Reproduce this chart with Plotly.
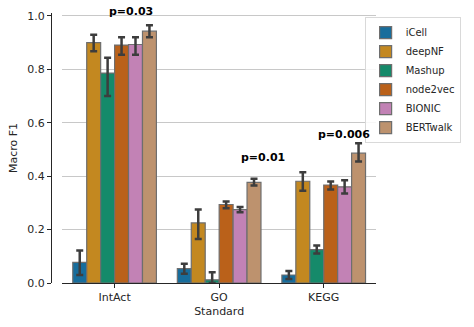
import plotly.graph_objects as go

standards = ["IntAct", "GO", "KEGG"]
methods = ["iCell", "deepNF", "Mashup", "node2vec", "BIONIC", "BERTwalk"]
colors = ["#176d9c", "#c38820", "#158a6a", "#ba611a", "#c282b5", "#bd926e"]

values = {
    "iCell":    [0.077, 0.054, 0.030],
    "deepNF":   [0.900, 0.225, 0.381],
    "Mashup":   [0.786, 0.012, 0.125],
    "node2vec": [0.891, 0.294, 0.367],
    "BIONIC":   [0.893, 0.275, 0.360],
    "BERTwalk": [0.943, 0.377, 0.486],
}
err_lo = {
    "iCell":    [0.030, 0.035, 0.015],
    "deepNF":   [0.868, 0.165, 0.345],
    "Mashup":   [0.700, 0.000, 0.110],
    "node2vec": [0.855, 0.280, 0.350],
    "BIONIC":   [0.855, 0.265, 0.335],
    "BERTwalk": [0.920, 0.365, 0.455],
}
err_hi = {
    "iCell":    [0.122, 0.072, 0.045],
    "deepNF":   [0.930, 0.275, 0.415],
    "Mashup":   [0.843, 0.040, 0.140],
    "node2vec": [0.920, 0.305, 0.380],
    "BIONIC":   [0.920, 0.285, 0.385],
    "BERTwalk": [0.965, 0.390, 0.523],
}
p_labels = ["p=0.03", "p=0.01", "p=0.006"]
p_x = [0.16, 1.42, 2.19]
p_y = [1.015, 0.47, 0.556]
y_max = 1.011

font = "DejaVu Sans"
fig = go.Figure()
for m, c in zip(methods, colors):
    v = values[m]
    fig.add_trace(go.Bar(
        x=standards, y=v, name=m,
        marker=dict(color=c, line=dict(color="#6e6e6e", width=1.2)),
        error_y=dict(
            type="data", symmetric=False,
            array=[h - y for h, y in zip(err_hi[m], v)],
            arrayminus=[y - l for l, y in zip(err_lo[m], v)],
            color="#3d3d3d", thickness=2.5, width=3.5,
        ),
    ))

for t, x, y in zip(p_labels, p_x, p_y):
    fig.add_annotation(x=x, y=y / y_max, xref="x", yref="paper", text="<b>" + t + "</b>",
                       showarrow=False, xanchor="center", yanchor="middle",
                       font=dict(family=font, size=11, color="black"))

fig.update_layout(
    width=474, height=327,
    margin=dict(l=51, r=98, t=10, b=44),
    barmode="group", bargap=0.2, bargroupgap=0,
    plot_bgcolor="white", paper_bgcolor="white",
    font=dict(family=font, size=11, color="#262626"),
    showlegend=True,
    legend=dict(x=0.965, y=0.985, xanchor="left", yanchor="top",
                bgcolor="rgba(255,255,255,0.85)", bordercolor="#d9d9d9", borderwidth=1,
                font=dict(family=font, size=10, color="#262626"),
                tracegroupgap=0, itemwidth=30),
    xaxis=dict(domain=[0.0348, 1], range=[-0.5, 2.5], showline=True, linecolor="#262626",
               linewidth=1.2, ticks="outside", ticklen=4, tickcolor="#262626",
               showgrid=False, zeroline=False,
               title=dict(text="Standard", font=dict(family=font, size=11), standoff=4)),
    yaxis=dict(range=[0, y_max], anchor="free", position=0, showline=True,
               linecolor="#262626", linewidth=1.2, ticks="outside", ticklen=4,
               tickcolor="#262626", tickvals=[0, 0.2, 0.4, 0.6, 0.8, 1.0],
               ticktext=["0.0", "0.2", "0.4", "0.6", "0.8", "1.0"],
               showgrid=True, gridcolor="#c8c8c8", gridwidth=1, zeroline=False,
               title=dict(text="Macro F1", font=dict(family=font, size=11), standoff=6)),
)
fig.write_html("out.html")
